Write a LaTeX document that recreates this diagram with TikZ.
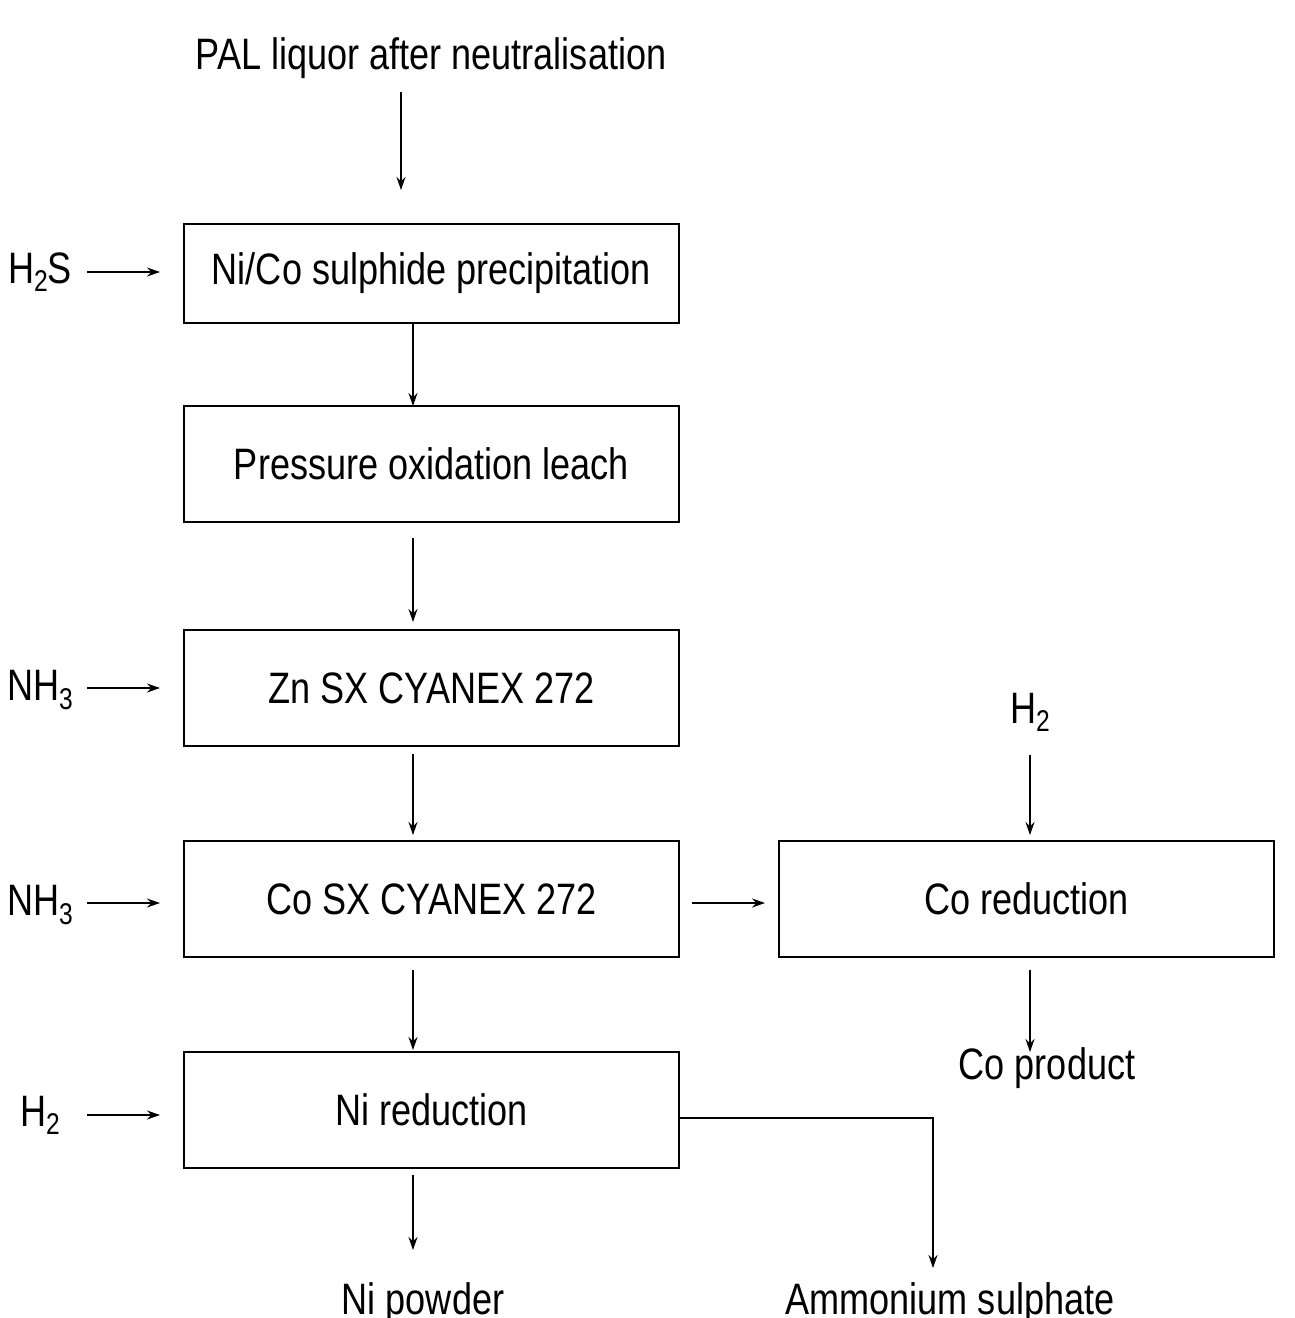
\documentclass[tikz,border=0pt]{standalone}
\usepackage{fontspec}
\setmainfont[FakeStretch=0.82]{Liberation Sans}
\usetikzlibrary{arrows.meta}
\newcommand{\sbt}[1]{\raisebox{-0.35ex}{\fontsize{30}{30}\selectfont #1}}
\begin{document}
\begin{tikzpicture}[x=1pt,y=-1pt,
  box/.style={draw,line width=1.3pt,inner sep=0pt},
  lbl/.style={inner sep=0pt,font=\fontsize{44}{44}\selectfont},
  arr/.style={line width=1.3pt,-{Stealth[length=13pt,width=9pt]}}]
\useasboundingbox (0,0) rectangle (1295,1318);
\node[box,minimum width=495pt,minimum height=99pt] (b1) at (431.5,273.5) {};
\node[lbl] at (431.5,273.5) {Ni/Co sulphide precipitation};
\node[box,minimum width=495pt,minimum height=116pt] (b2) at (431.5,464) {};
\node[lbl] at (431.5,464) {Pressure oxidation leach};
\node[box,minimum width=495pt,minimum height=116pt] (b3) at (431.5,688) {};
\node[lbl] at (431.5,688) {Zn SX CYANEX 272};
\node[box,minimum width=495pt,minimum height=116pt] (b4) at (431.5,899) {};
\node[lbl] at (431.5,899) {Co SX CYANEX 272};
\node[box,minimum width=495pt,minimum height=116pt] (b5) at (431.5,1110) {};
\node[lbl] at (431.5,1110) {Ni reduction};
\node[box,minimum width=495pt,minimum height=116pt] (b6) at (1026.5,899) {};
\node[lbl] at (1026.5,899) {Co reduction};
\node[lbl] (pal) at (431,58) {PAL liquor after neutralisation};
\node[lbl] (h2s) at (40,272) {H\sbt{2}S};
\node[lbl] (nh1) at (40,690) {NH\sbt{3}};
\node[lbl] (nh2) at (40,905) {NH\sbt{3}};
\node[lbl] (h2a) at (40,1115) {H\sbt{2}};
\node[lbl] (h2b) at (1030,712) {H\sbt{2}};
\node[lbl] (cop) at (1047,1068) {Co product};
\node[lbl,anchor=north] (nip) at (423,1282) {Ni powder};
\node[lbl,anchor=north] (ams) at (950,1282) {Ammonium sulphate};
\coordinate (a0) at (401,92); \coordinate (a1) at (401,190);
\draw[arr] (a0) -- (a1);
\foreach \y/\n in {272/a,688/b,903/c,1115/d}{
  \coordinate (l\n) at (87,\y); \coordinate (r\n) at (160,\y);
  \draw[arr] (l\n) -- (r\n);}
\draw[arr] (413,323) -- (413,406);
\draw[arr] (413,538) -- (413,622);
\draw[arr] (413,754) -- (413,835);
\draw[arr] (413,970) -- (413,1050);
\draw[arr] (413,1175) -- (413,1250);
\draw[arr] (692,903) -- (765,903);
\draw[arr] (1030,755) -- (1030,835);
\draw[arr] (1030,970) -- (1030,1052);
\draw[arr] (679,1118) -- (933,1118) -- (933,1268);
\end{tikzpicture}
\end{document}
